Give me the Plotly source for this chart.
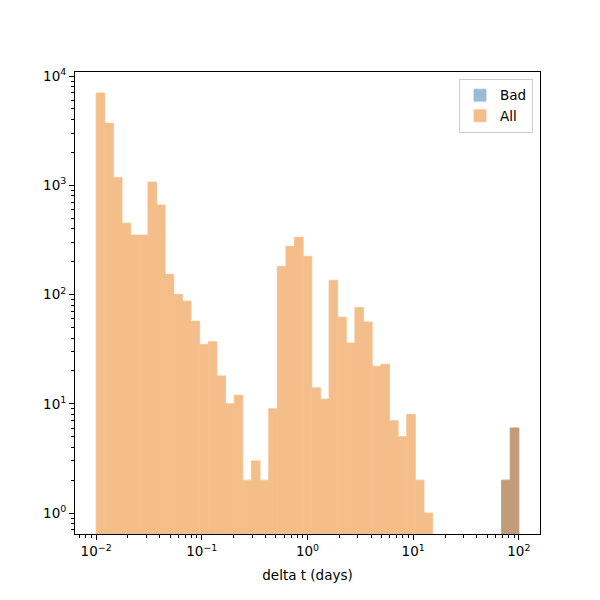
import numpy as np
import plotly.graph_objects as go

# 49 log-spaced bins from 1e-2 to 1e2 days
bin_edges = np.logspace(-2, 2, 50)

counts_all = [7000, 3700, 1180, 450, 350, 350, 1070, 660, 153, 100,
              87, 57, 35, 37, 18, 10, 12, 2, 3, 2,
              9, 181, 276, 334, 224, 14, 11, 135, 62, 36,
              76, 56, 22, 23, 7, 5, 8, 2, 1, 0,
              0, 0, 0, 0, 0, 0, 0, 2, 6]
counts_bad = [0] * 47 + [2, 6]

series_names = ["Bad", "All"]
series_colors = ["#3579b5", "#eb7f19"]

x_tickvals = [0.01, 0.1, 1, 10, 100]
x_ticktext = ["10<sup>\u22122</sup>", "10<sup>\u22121</sup>", "10<sup>0</sup>",
              "10<sup>1</sup>", "10<sup>2</sup>"]
y_tickvals = [1, 10, 100, 1000, 10000]
y_ticktext = ["10<sup>0</sup>", "10<sup>1</sup>", "10<sup>2</sup>",
              "10<sup>3</sup>", "10<sup>4</sup>"]


def minor_vals(lo, hi):
    return [m * 10.0 ** e for e in range(lo, hi) for m in range(2, 10)]


left = bin_edges[:-1]
widths = np.diff(bin_edges)

fig = go.Figure()
for name, color, counts in zip(series_names, series_colors, [counts_bad, counts_all]):
    y = [c if c > 0 else None for c in counts]
    # opaque bars + same-colour outline inside a half-transparent trace group,
    # so neighbouring bars leave no seams
    fig.add_trace(go.Bar(
        x=left, y=y, width=widths, offset=0,
        name=name,
        marker=dict(color=color, line=dict(width=0.8, color=color)),
        opacity=0.5,
    ))

axis_common = dict(
    type="log",
    showgrid=False, zeroline=False, automargin=False,
    showline=True, linecolor="black", linewidth=1.1, mirror=True,
    ticks="outside", ticklen=5, tickwidth=1.1, tickcolor="black",
    tickfont=dict(family="DejaVu Sans", size=13.5, color="black"),
)

# page body has an 8px margin, so the figure margins are shifted to compensate
fig.update_layout(
    width=600, height=600,
    margin=dict(l=67, r=68, t=64, b=74),
    plot_bgcolor="white", paper_bgcolor="white",
    barmode="overlay",
    font=dict(family="DejaVu Sans", size=13.5, color="black"),
    xaxis=dict(
        axis_common,
        range=[-2.2, 2.2],
        tickvals=x_tickvals, ticktext=x_ticktext,
        minor=dict(tickvals=minor_vals(-3, 3), ticks="outside", ticklen=3,
                   tickwidth=0.8, tickcolor="black"),
        title=dict(text="delta t (days)", font=dict(size=13.5), standoff=12),
    ),
    yaxis=dict(
        axis_common,
        range=[-0.192, 4.037],
        tickvals=y_tickvals, ticktext=y_ticktext,
        minor=dict(tickvals=minor_vals(-1, 5), ticks="outside", ticklen=3,
                   tickwidth=0.8, tickcolor="black"),
    ),
    legend=dict(
        x=0.985, y=0.985, xanchor="right", yanchor="top",
        bgcolor="rgba(255,255,255,0.8)", bordercolor="#cccccc", borderwidth=1,
        font=dict(size=13.5),
        itemwidth=30, tracegroupgap=0,
    ),
    showlegend=True,
)

fig.write_html("out.html")
